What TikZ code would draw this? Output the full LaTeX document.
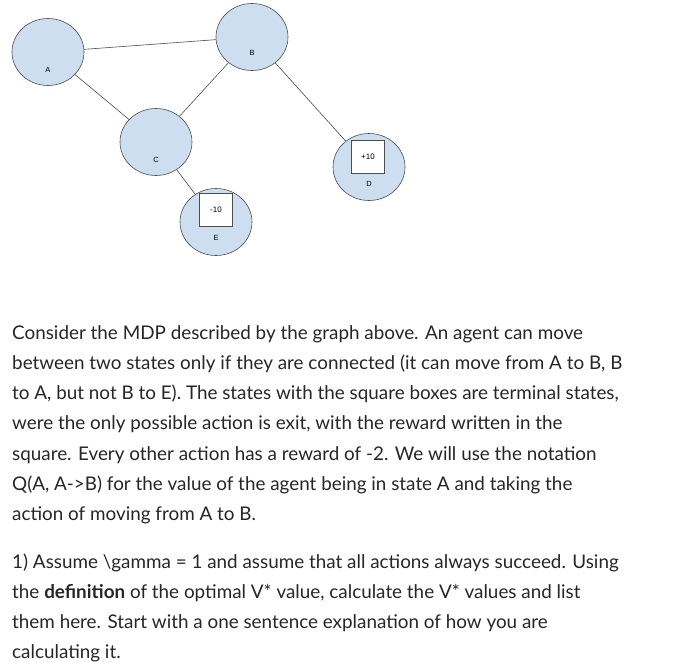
\documentclass[tikz,border=0pt]{standalone}
\usepackage{fontspec}
\setmainfont{Lato}
\setsansfont{Liberation Sans}
\usetikzlibrary{shapes.geometric}
\definecolor{nodefill}{RGB}{204,222,240}
\begin{document}
\begin{tikzpicture}[x=1pt,y=-1pt,
  st/.style={draw=black!70,fill=nodefill,ellipse,minimum width=72pt,minimum height=67pt,line width=0.6pt},
  lab/.style={font=\sffamily\fontsize{7.5}{8}\selectfont},
  sq/.style={draw=black!70,fill=white,minimum size=33pt,inner sep=0pt,font=\sffamily\fontsize{8}{9}\selectfont},
  ln/.style={anchor=base west,inner sep=0pt,font=\fontsize{18.85}{20}\selectfont,text=black!85},
  ed/.style={draw=black!70,line width=0.6pt}]
\useasboundingbox (0,0) rectangle (673,662);
\node[st] (A) at (48,52) {};
\node[st] (B) at (252,37) {};
\node[st] (C) at (156,142) {};
\node[st] (D) at (369,167) {};
\node[st] (E) at (216,222) {};
\node[lab] (la) at (48,70) {A};
\node[lab] (lb) at (252,53) {B};
\node[lab] (lc) at (156,160) {C};
\node[lab] (ld) at (369,184) {D};
\node[lab] (le) at (216,238) {E};
\node[sq] (sd) at (368,157) {+10};
\node[sq] (se) at (216,210) {-10};
\draw[ed] (A) -- (B);
\draw[ed] (A) -- (C);
\draw[ed] (C) -- (B);
\draw[ed] (B) -- (D);
\draw[ed] (C) -- (E);
\node[ln] (t1) at (12,339) {Consider the MDP described by the graph above. An agent can move};
\node[ln] (t2) at (12,369) {between two states only if they are connected (it can move from A to B, B};
\node[ln] (t3) at (12,399) {to A, but not B to E). The states with the square boxes are terminal states,};
\node[ln] (t4) at (12,429) {were the only possible action is exit, with the reward written in the};
\node[ln] (t5) at (12,460) {square. Every other action has a reward of -2. We will use the notation};
\node[ln] (t6) at (12,490) {Q(A, A->B) for the value of the agent being in state A and taking the};
\node[ln] (t7) at (12,520) {action of moving from A to B.};
\node[ln] (t8) at (12,568) {1) Assume \textbackslash gamma = 1 and assume that all actions always succeed. Using};
\node[ln] (t9) at (12,598) {the \textbf{definition} of the optimal V* value, calculate the V* values and list};
\node[ln] (t10) at (12,628) {them here. Start with a one sentence explanation of how you are};
\node[ln] (t11) at (12,658) {calculating it.};
\end{tikzpicture}
\end{document}
